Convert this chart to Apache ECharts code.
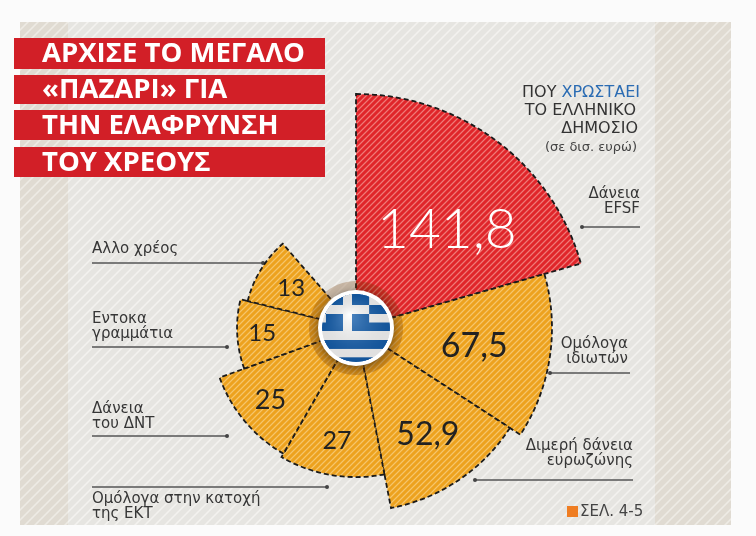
<!DOCTYPE html>
<html><head><meta charset="utf-8">
<script src="https://cdn.jsdelivr.net/npm/echarts@6/dist/echarts.min.js"></script>
<style>html,body{margin:0;padding:0;background:#fbfbfb}#c{width:756px;height:536px}</style>
</head><body><div id="c"></div>
<script>
// ---------- DATA ----------
const categories = ['Δάνεια EFSF', 'Ομόλογα ιδιωτών', 'Διμερή δάνεια ευρωζώνης', 'Ομόλογα στην κατοχή της ΕΚΤ', 'Δάνεια του ΔΝΤ', 'Εντοκα γραμμάτια', 'Αλλο χρέος'];
const values = [141.8, 67.5, 52.9, 27, 25, 15, 13];
const valueLabels = ['141,8', '67,5', '52,9', '27', '25', '15', '13'];
const titleLines = ['ΑΡΧΙΣΕ ΤΟ ΜΕΓΑΛΟ', '«ΠΑΖΑΡΙ» ΓΙΑ', 'ΤΗΝ ΕΛΑΦΡΥΝΣΗ', 'ΤΟΥ ΧΡΕΟΥΣ'];
const subtitleLines = ['ΤΟ ΕΛΛΗΝΙΚΟ', 'ΔΗΜΟΣΙΟ'];
const unitText = '(σε δισ. ευρώ)';
const sideLabels = ['Δάνεια\nEFSF', 'Ομόλογα\nιδιωτών', 'Διμερή δάνεια\nευρωζώνης', 'Ομόλογα στην κατοχή\nτης ΕΚΤ', 'Δάνεια\nτου ΔΝΤ', 'Εντοκα\nγραμμάτια', 'Αλλο χρέος'];
const pageRef = 'ΣΕΛ. 4-5';

// ---------- LAYOUT / STYLE ----------
const sectorSpanDeg = [74, 49, 46, 41, 40, 34, 35];   // angular width of each sector
const labelRadiusFrac = [0.57, 0.61, 0.70, 0.77, 0.77, 0.79, 0.68];
const labelAngleFrac = [0.58, 0.5, 0.5, 0.5, 0.5, 0.5, 0.5];
const labelFontSize = [55, 34, 32, 25, 27, 24, 24];
const CX = 356, CY = 328;

function stripes(bg, line, gap, w) {
  const s = 2;
  const c = document.createElement('canvas');
  c.width = gap * s; c.height = gap * s;
  const g = c.getContext('2d');
  g.scale(s, s);
  g.fillStyle = bg; g.fillRect(0, 0, gap, gap);
  g.strokeStyle = line; g.lineWidth = w;
  g.beginPath();
  g.moveTo(-1, gap + 1); g.lineTo(gap + 1, -1);
  g.moveTo(-1, 1); g.lineTo(1, -1);
  g.moveTo(gap - 1, gap + 1); g.lineTo(gap + 1, gap - 1);
  g.stroke();
  return { image: c, repeat: 'repeat', scaleX: 1 / s, scaleY: 1 / s };
}
const orangeFill = stripes('#eda21e', '#f6c66c', 6, 1.3);
const redFill = stripes('#e0252a', '#f07b78', 6, 1.3);
const outerBg = stripes('#e0dbd2', '#eeebe5', 10, 1.6);
const innerBg = stripes('#e6e5e1', '#f3f2ef', 10, 1.6);

function flagCanvas() {
  const s = 2, D = 74 * s;
  const c = document.createElement('canvas');
  c.width = D; c.height = D;
  const g = c.getContext('2d');
  g.beginPath(); g.arc(D / 2, D / 2, D / 2, 0, Math.PI * 2); g.clip();
  g.fillStyle = '#fff'; g.fillRect(0, 0, D, D);
  const h = 9.5 * s, ox = D / 2 - 33 * s, oy = D / 2 - 44 * s;
  g.fillStyle = '#1560b0';
  for (let i = 0; i < 11; i += 2) g.fillRect(0, oy + i * h, D, h);
  g.fillRect(ox, oy, 5 * h, 5 * h);
  g.fillStyle = '#fff';
  g.fillRect(ox + 2 * h, oy, h, 5 * h);
  g.fillRect(ox, oy + 2 * h, 5 * h, h);
  const gr = g.createRadialGradient(D * 0.4, D * 0.3, 0, D / 2, D / 2, D / 2);
  gr.addColorStop(0, 'rgba(255,255,255,0.25)');
  gr.addColorStop(1, 'rgba(0,0,0,0.12)');
  g.fillStyle = gr; g.fillRect(0, 0, D, D);
  return c;
}

let start = 0;
const seriesData = values.map((v, i) => {
  const item = [v, start, start + sectorSpanDeg[i], i];
  start += sectorSpanDeg[i];
  return item;
});

function renderItem(params, api) {
  const cs = params.coordSys;
  const cx = cs.cx, cy = cs.cy;
  const v = api.value(0), a0 = api.value(1), a1 = api.value(2), i = api.value(3);
  const p0 = api.coord([v, a0]);
  const p1 = api.coord([v, a1]);
  const r = Math.hypot(p0[0] - cx, p0[1] - cy);
  const s = Math.atan2(p0[1] - cy, p0[0] - cx);
  let e = Math.atan2(p1[1] - cy, p1[0] - cx);
  if (e <= s) e += Math.PI * 2;
  const mid = s + (e - s) * labelAngleFrac[i];
  const lr = r * labelRadiusFrac[i];
  return {
    type: 'group',
    children: [
      { type: 'sector', shape: { cx, cy, r0: 0, r, startAngle: s, endAngle: e, clockwise: true },
        style: { fill: i === 0 ? redFill : orangeFill, stroke: '#1b1b1b', lineWidth: 1.8, lineDash: [5, 3] } },
      { type: 'text', x: cx + lr * Math.cos(mid), y: cy + lr * Math.sin(mid),
        style: { text: valueLabels[i], fill: i === 0 ? '#ffffff' : '#222222',
          font: (i === 0 ? '300 ' : '') + labelFontSize[i] + 'px Lato, "Noto Sans", sans-serif', align: 'center', verticalAlign: 'middle' } }
    ]
  };
}

const LBL = '15px "DejaVu Sans", sans-serif';
const labelColor = '#363636';
function sideLabel(idx, x, y, align, lineX0, lineX1, lineY, dotX) {
  return [
    { type: 'text', z: 5, style: { text: sideLabels[idx], x, y, font: LBL, fill: labelColor, align, verticalAlign: 'top', lineHeight: 15 } },
    { type: 'line', z: 5, shape: { x1: lineX0, y1: lineY, x2: lineX1, y2: lineY }, style: { stroke: '#555', lineWidth: 1.4 } },
    { type: 'circle', z: 5, shape: { cx: dotX, cy: lineY, r: 2 }, style: { fill: '#444' } }
  ];
}

const graphics = [
  { type: 'rect', z: -10, shape: { x: 20, y: 22, width: 711, height: 503 }, style: { fill: outerBg } },
  { type: 'rect', z: -9, shape: { x: 68, y: 22, width: 587, height: 503 }, style: { fill: innerBg } }
];
const titleRects = [[38, 31], [75, 29], [110, 30], [147, 30]];
titleLines.forEach((t, i) => {
  graphics.push({ type: 'rect', z: 5, shape: { x: 14, y: titleRects[i][0], width: 311, height: titleRects[i][1] }, style: { fill: '#d21f27' } });
  graphics.push({ type: 'text', z: 6, style: { text: t, x: 42, y: titleRects[i][0] + titleRects[i][1] / 2 + 1, font: 'bold 27.5px "Open Sans", sans-serif', fill: '#fff', align: 'left', verticalAlign: 'middle' } });
});
graphics.push({ type: 'text', z: 5, style: { text: '{a|ΠΟΥ }{b|ΧΡΩΣΤΑΕΙ}', x: 640, y: 93, align: 'right', verticalAlign: 'middle',
  rich: { a: { font: '16px "DejaVu Sans", sans-serif', fill: '#333' }, b: { font: '16px "DejaVu Sans", sans-serif', fill: '#2b6cb3' } } } });
graphics.push({ type: 'text', z: 5, style: { text: subtitleLines[0], x: 636, y: 111, font: '16px "DejaVu Sans", sans-serif', fill: '#333', align: 'right', verticalAlign: 'middle' } });
graphics.push({ type: 'text', z: 5, style: { text: subtitleLines[1], x: 638, y: 129, font: '16px "DejaVu Sans", sans-serif', fill: '#333', align: 'right', verticalAlign: 'middle' } });
graphics.push({ type: 'text', z: 5, style: { text: unitText, x: 637, y: 148, font: '13px "DejaVu Sans", sans-serif', fill: '#444', align: 'right', verticalAlign: 'middle' } });

graphics.push(...sideLabel(0, 640, 187, 'right', 582, 640, 227, 582));
graphics.push(...sideLabel(1, 628, 337, 'right', 550, 630, 373, 550));
graphics.push(...sideLabel(2, 633, 439, 'right', 475, 633, 480, 475));
graphics.push(...sideLabel(3, 92, 492, 'left', 92, 327, 487, 327));
graphics.push(...sideLabel(4, 92, 402, 'left', 92, 227, 436, 227));
graphics.push(...sideLabel(5, 92, 312, 'left', 92, 227, 347, 227));
graphics.push(...sideLabel(6, 92, 242, 'left', 92, 263, 263, 263));

graphics.push({ type: 'rect', z: 5, shape: { x: 567, y: 506, width: 11, height: 11 }, style: { fill: '#ef7d22' } });
graphics.push({ type: 'text', z: 5, style: { text: pageRef, x: 580, y: 512, font: '15px "DejaVu Sans", sans-serif', fill: '#444', align: 'left', verticalAlign: 'middle' } });

// flag with shadow ring
graphics.push({ type: 'circle', z: 20, shape: { cx: CX, cy: CY, r: 47 }, style: { fill: 'rgba(110,55,0,0.28)' } });
graphics.push({ type: 'circle', z: 21, shape: { cx: CX, cy: CY, r: 38 }, style: { fill: '#ffffff', shadowBlur: 8, shadowColor: 'rgba(0,0,0,0.45)', shadowOffsetY: 2 } });
graphics.push({ type: 'image', z: 22, style: { image: flagCanvas(), x: CX - 34, y: CY - 34, width: 68, height: 68 } });

const chart = echarts.init(document.getElementById('c'), null, { renderer: 'canvas' });
chart.setOption({
  animation: false,
  backgroundColor: '#fbfbfb',
  polar: { center: [CX, CY], radius: 234 },
  angleAxis: { type: 'value', min: 0, max: 360, startAngle: 90, clockwise: true, show: false, splitLine: { show: false } },
  radiusAxis: { type: 'log', min: 1.47, max: 141.8, show: false, splitLine: { show: false } },
  graphic: graphics,
  series: [{
    type: 'custom',
    coordinateSystem: 'polar',
    name: 'Χρέος',
    encode: { radius: 0, angle: 1 },
    data: seriesData,
    renderItem,
    z: 10
  }]
});
</script>
</body></html>
